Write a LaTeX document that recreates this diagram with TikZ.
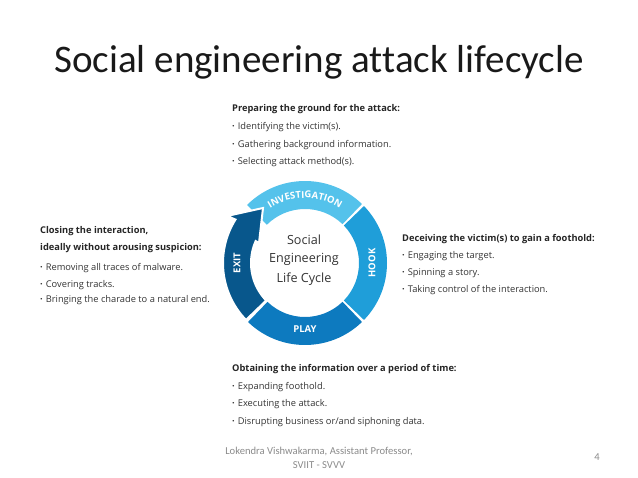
\documentclass[tikz,border=0pt]{standalone}
\usepackage{fontspec}
\setmainfont{Open Sans}
\newfontfamily\titlefont[Ligatures=NoCommon]{Carlito}
\usetikzlibrary{calc,decorations.text}
\definecolor{InvClr}{rgb}{0.33,0.76,0.92}
\definecolor{HookClr}{rgb}{0.12,0.62,0.85}
\definecolor{PlayClr}{rgb}{0.05,0.48,0.75}
\definecolor{ExitClr}{rgb}{0.03,0.34,0.55}
\definecolor{BodyClr}{rgb}{0.2,0.2,0.2}
\definecolor{FootClr}{rgb}{0.54,0.54,0.54}
\newcommand{\dotmark}{\textbf{·}\hspace{3pt}}
\tikzset{
  headline/.style={anchor=base west,inner sep=0pt,text=black!85,font=\fontsize{9.3}{12}\selectfont\bfseries},
  bodyline/.style={anchor=base west,inner sep=0pt,text=BodyClr,font=\fontsize{9.3}{12}\selectfont},
  ringtext/.style={inner sep=0pt,text=white,font=\fontsize{9.5}{12}\selectfont\bfseries},
  centertext/.style={inner sep=0pt,text=black!80,font=\fontsize{12.6}{16}\selectfont},
  foottext/.style={inner sep=0pt,text=FootClr,font=\titlefont\fontsize{10.6}{14.5}\selectfont}
}
\begin{document}
\begin{tikzpicture}[x=1pt,y=-1pt]
\useasboundingbox (0,0) rectangle (638,478);

\node[inner sep=0pt,anchor=base west,font=\titlefont\fontsize{39.05}{44}\selectfont,text=black!90] (title) at (54,73) {Social engineering attack lifecycle};

\coordinate (O) at (305,263);

% ring, y axis points down so the angles are negative at the top
\fill[InvClr] ($(O)+(-135:82)$) arc[start angle=-135,end angle=-46,radius=82]
  -- ($(O)+(-46:54)$) arc[start angle=-46,end angle=-135,radius=54] -- cycle;
\fill[HookClr] ($(O)+(-44:82)$) arc[start angle=-44,end angle=44,radius=82]
  -- ($(O)+(44:54)$) arc[start angle=44,end angle=-44,radius=54] -- cycle;
\fill[PlayClr] ($(O)+(46:82)$) arc[start angle=46,end angle=134,radius=82]
  -- ($(O)+(134:54)$) arc[start angle=134,end angle=46,radius=54] -- cycle;

\draw[white,line width=2pt,fill=ExitClr] ($(O)+(136:82)$) arc[start angle=136,end angle=212,radius=82]
  -- (227,216) -- (263,208) -- (259,243) -- ($(O)+(-156:54)$)
  arc[start angle=204,end angle=136,radius=54] -- cycle;

\path[decorate,decoration={text along path,text align=center,
  text={|\fontsize{9.5}{12}\selectfont\bfseries\color{white}|INVESTIGATION}}]
  ($(O)+(-135:65)$) arc[start angle=-135,end angle=-45,radius=65];

\node[ringtext,rotate=90] (hook) at ($(O)+(67,0)$) {HOOK};
\node[ringtext] (play) at ($(O)+(0,66)$) {PLAY};
\node[ringtext,rotate=90] (exit) at ($(O)+(-68,0)$) {EXIT};

\node[centertext] (c1) at (304,240) {Social};
\node[centertext] (c2) at (304,259.5) {Engineering};
\node[centertext] (c3) at (304,279) {Life Cycle};

% top
\node[headline] (t0) at (232,112) {Preparing the ground for the attack:};
\node[bodyline] (t1) at (232,130) {\dotmark Identifying the victim(s).};
\node[bodyline] (t2) at (232,147.5) {\dotmark Gathering background information.};
\node[bodyline] (t3) at (232,165) {\dotmark Selecting attack method(s).};

% left
\node[headline] (l0) at (40,234) {Closing the interaction,};
\node[headline] (l1) at (40,251) {ideally without arousing suspicion:};
\node[bodyline] (l2) at (40,270.5) {\dotmark Removing all traces of malware.};
\node[bodyline] (l3) at (40,288) {\dotmark Covering tracks.};
\node[bodyline] (l4) at (40,303) {\dotmark Bringing the charade to a natural end.};

% right
\node[headline] (r0) at (402,242) {Deceiving the victim(s) to gain a foothold:};
\node[bodyline] (r1) at (402,259) {\dotmark Engaging the target.};
\node[bodyline] (r2) at (402,276) {\dotmark Spinning a story.};
\node[bodyline] (r3) at (402,293) {\dotmark Taking control of the interaction.};

% bottom
\node[headline] (b0) at (232,372) {Obtaining the information over a period of time:};
\node[bodyline] (b1) at (232,389.5) {\dotmark Expanding foothold.};
\node[bodyline] (b2) at (232,407) {\dotmark Executing the attack.};
\node[bodyline] (b3) at (232,424.5) {\dotmark Disrupting business or/and siphoning data.};

% footer
\node[foottext] (f1) at (319,451) {Lokendra Vishwakarma, Assistant Professor,};
\node[foottext] (f2) at (319,465.5) {SVIIT - SVVV};
\node[foottext] (num) at (597,457) {4};
\end{tikzpicture}
\end{document}
